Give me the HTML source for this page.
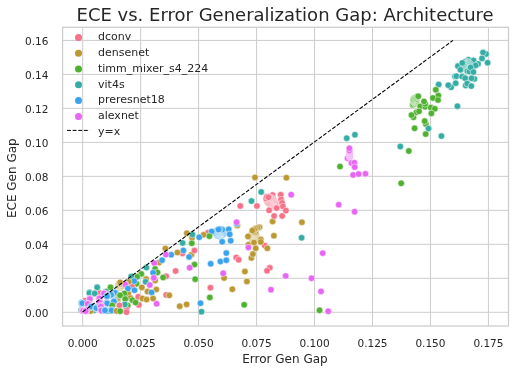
<!DOCTYPE html>
<html><head><meta charset="utf-8"><title>ECE vs. Error Generalization Gap</title>
<style>html,body{margin:0;padding:0;background:#fff}svg{display:block}text{font-family:"DejaVu Sans","Liberation Sans",sans-serif;fill:#262626}</style></head><body>
<svg width="515" height="373" viewBox="0 0 515 373">
<rect width="515" height="373" fill="#fff"/>
<path d="M82.70 27.30V326.00M140.66 27.30V326.00M198.62 27.30V326.00M256.58 27.30V326.00M314.54 27.30V326.00M372.50 27.30V326.00M430.46 27.30V326.00M488.42 27.30V326.00M62.60 312.30H508.50M62.60 278.31H508.50M62.60 244.32H508.50M62.60 210.34H508.50M62.60 176.35H508.50M62.60 142.36H508.50M62.60 108.37H508.50M62.60 74.38H508.50M62.60 40.40H508.50" stroke="#cccccc" stroke-width="1" fill="none"/>
<g stroke="#fff" stroke-width="0.5">
<circle cx="451.1" cy="87.3" r="3.25" fill="#36ada4"/>
<circle cx="465.7" cy="85.5" r="3.25" fill="#36ada4"/>
<circle cx="413.4" cy="117.3" r="3.25" fill="#50b131"/>
<circle cx="425.8" cy="124.0" r="3.25" fill="#50b131"/>
<circle cx="237.3" cy="225.4" r="3.25" fill="#bb9832"/>
<circle cx="236.7" cy="223.7" r="3.25" fill="#3ba3ec"/>
<circle cx="264.8" cy="245.6" r="3.25" fill="#f77189"/>
<circle cx="248.4" cy="244.8" r="3.25" fill="#bb9832"/>
<circle cx="207.9" cy="232.8" r="3.25" fill="#f77189"/>
<circle cx="186.8" cy="233.3" r="3.25" fill="#bb9832"/>
<circle cx="192.0" cy="237.7" r="3.25" fill="#bb9832"/>
<circle cx="182.5" cy="253.5" r="3.25" fill="#f77189"/>
<circle cx="191.4" cy="254.7" r="3.25" fill="#bb9832"/>
<circle cx="224.1" cy="278.0" r="3.25" fill="#bb9832"/>
<circle cx="165.4" cy="248.4" r="3.25" fill="#bb9832"/>
<circle cx="159.2" cy="262.6" r="3.25" fill="#bb9832"/>
<circle cx="166.2" cy="276.3" r="3.25" fill="#f77189"/>
<circle cx="155.1" cy="280.6" r="3.25" fill="#bb9832"/>
<circle cx="146.1" cy="279.1" r="3.25" fill="#bb9832"/>
<circle cx="136.6" cy="283.7" r="3.25" fill="#50b131"/>
<circle cx="132.0" cy="286.2" r="3.25" fill="#f77189"/>
<circle cx="166.2" cy="294.9" r="3.25" fill="#f77189"/>
<circle cx="128.3" cy="293.7" r="3.25" fill="#bb9832"/>
<circle cx="138.9" cy="304.9" r="3.25" fill="#f77189"/>
<circle cx="127.7" cy="305.5" r="3.25" fill="#50b131"/>
<circle cx="106.4" cy="291.6" r="3.25" fill="#36ada4"/>
<circle cx="100.3" cy="293.0" r="3.25" fill="#f77189"/>
<circle cx="85.1" cy="300.7" r="3.25" fill="#f77189"/>
<circle cx="112.5" cy="305.1" r="3.25" fill="#50b131"/>
<circle cx="108.2" cy="311.1" r="3.25" fill="#50b131"/>
<circle cx="81.3" cy="310.2" r="3.25" fill="#36ada4"/>
<circle cx="94.0" cy="310.3" r="3.25" fill="#36ada4"/>
<circle cx="90.6" cy="311.1" r="3.25" fill="#bb9832"/>
<circle cx="130.5" cy="298.1" r="3.25" fill="#bb9832"/>
<circle cx="126.5" cy="309.6" r="3.25" fill="#f77189"/>
<circle cx="126.5" cy="312.1" r="3.25" fill="#f77189"/>
<circle cx="468.5" cy="59.8" r="3.25" fill="#36ada4"/>
<circle cx="473.6" cy="60.4" r="3.25" fill="#36ada4"/>
<circle cx="457.9" cy="66.1" r="3.25" fill="#36ada4"/>
<circle cx="478.0" cy="63.9" r="3.25" fill="#36ada4"/>
<circle cx="465.6" cy="61.5" r="3.25" fill="#36ada4"/>
<circle cx="468.1" cy="61.8" r="3.25" fill="#36ada4"/>
<circle cx="466.9" cy="62.6" r="3.25" fill="#36ada4"/>
<circle cx="465.3" cy="63.3" r="3.25" fill="#36ada4"/>
<circle cx="464.0" cy="63.7" r="3.25" fill="#36ada4"/>
<circle cx="463.8" cy="64.8" r="3.25" fill="#36ada4"/>
<circle cx="465.5" cy="64.9" r="3.25" fill="#36ada4"/>
<circle cx="466.3" cy="64.0" r="3.25" fill="#36ada4"/>
<circle cx="468.2" cy="64.1" r="3.25" fill="#36ada4"/>
<circle cx="469.2" cy="63.2" r="3.25" fill="#36ada4"/>
<circle cx="470.1" cy="63.9" r="3.25" fill="#36ada4"/>
<circle cx="468.8" cy="64.6" r="3.25" fill="#36ada4"/>
<circle cx="466.7" cy="65.2" r="3.25" fill="#36ada4"/>
<circle cx="465.7" cy="66.2" r="3.25" fill="#36ada4"/>
<circle cx="464.2" cy="66.5" r="3.25" fill="#36ada4"/>
<circle cx="464.9" cy="67.5" r="3.25" fill="#36ada4"/>
<circle cx="466.1" cy="66.7" r="3.25" fill="#36ada4"/>
<circle cx="467.1" cy="66.5" r="3.25" fill="#36ada4"/>
<circle cx="469.1" cy="66.0" r="3.25" fill="#36ada4"/>
<circle cx="470.3" cy="65.7" r="3.25" fill="#36ada4"/>
<circle cx="470.7" cy="66.7" r="3.25" fill="#36ada4"/>
<circle cx="469.7" cy="67.4" r="3.25" fill="#36ada4"/>
<circle cx="467.9" cy="68.0" r="3.25" fill="#36ada4"/>
<circle cx="466.8" cy="68.6" r="3.25" fill="#36ada4"/>
<circle cx="465.4" cy="68.6" r="3.25" fill="#36ada4"/>
<circle cx="466.3" cy="69.5" r="3.25" fill="#36ada4"/>
<circle cx="467.3" cy="69.7" r="3.25" fill="#36ada4"/>
<circle cx="468.2" cy="69.1" r="3.25" fill="#36ada4"/>
<circle cx="469.4" cy="68.9" r="3.25" fill="#36ada4"/>
<circle cx="471.2" cy="68.1" r="3.25" fill="#36ada4"/>
<circle cx="471.1" cy="69.3" r="3.25" fill="#36ada4"/>
<circle cx="469.7" cy="70.1" r="3.25" fill="#36ada4"/>
<circle cx="468.4" cy="70.4" r="3.25" fill="#36ada4"/>
<circle cx="467.5" cy="71.2" r="3.25" fill="#36ada4"/>
<circle cx="469.4" cy="71.6" r="3.25" fill="#36ada4"/>
<circle cx="412.7" cy="105.0" r="3.25" fill="#50b131"/>
<circle cx="413.4" cy="104.3" r="3.25" fill="#50b131"/>
<circle cx="415.2" cy="103.8" r="3.25" fill="#50b131"/>
<circle cx="416.0" cy="102.5" r="3.25" fill="#50b131"/>
<circle cx="415.0" cy="102.9" r="3.25" fill="#50b131"/>
<circle cx="414.4" cy="102.9" r="3.25" fill="#50b131"/>
<circle cx="413.7" cy="102.0" r="3.25" fill="#50b131"/>
<circle cx="414.3" cy="102.0" r="3.25" fill="#50b131"/>
<circle cx="415.4" cy="101.9" r="3.25" fill="#50b131"/>
<circle cx="416.0" cy="102.0" r="3.25" fill="#50b131"/>
<circle cx="416.1" cy="101.0" r="3.25" fill="#50b131"/>
<circle cx="415.7" cy="101.0" r="3.25" fill="#50b131"/>
<circle cx="414.5" cy="101.4" r="3.25" fill="#50b131"/>
<circle cx="413.6" cy="101.1" r="3.25" fill="#50b131"/>
<circle cx="413.9" cy="100.6" r="3.25" fill="#50b131"/>
<circle cx="414.6" cy="100.6" r="3.25" fill="#50b131"/>
<circle cx="415.2" cy="100.4" r="3.25" fill="#50b131"/>
<circle cx="416.2" cy="100.6" r="3.25" fill="#50b131"/>
<circle cx="416.0" cy="99.4" r="3.25" fill="#50b131"/>
<circle cx="415.1" cy="99.8" r="3.25" fill="#50b131"/>
<circle cx="414.4" cy="99.4" r="3.25" fill="#50b131"/>
<circle cx="413.5" cy="99.6" r="3.25" fill="#50b131"/>
<circle cx="414.0" cy="98.9" r="3.25" fill="#50b131"/>
<circle cx="415.2" cy="98.7" r="3.25" fill="#50b131"/>
<circle cx="416.0" cy="99.1" r="3.25" fill="#50b131"/>
<circle cx="414.7" cy="98.1" r="3.25" fill="#50b131"/>
<circle cx="415.4" cy="97.9" r="3.25" fill="#50b131"/>
<circle cx="416.0" cy="97.5" r="3.25" fill="#50b131"/>
<circle cx="416.6" cy="97.2" r="3.25" fill="#50b131"/>
<circle cx="417.2" cy="96.7" r="3.25" fill="#50b131"/>
<circle cx="417.9" cy="96.4" r="3.25" fill="#50b131"/>
<circle cx="347.6" cy="158.2" r="3.25" fill="#e866f4"/>
<circle cx="349.7" cy="157.3" r="3.25" fill="#e866f4"/>
<circle cx="349.6" cy="156.8" r="3.25" fill="#e866f4"/>
<circle cx="349.6" cy="156.4" r="3.25" fill="#e866f4"/>
<circle cx="349.5" cy="156.0" r="3.25" fill="#e866f4"/>
<circle cx="349.6" cy="155.4" r="3.25" fill="#e866f4"/>
<circle cx="349.5" cy="154.9" r="3.25" fill="#e866f4"/>
<circle cx="349.5" cy="154.4" r="3.25" fill="#e866f4"/>
<circle cx="349.6" cy="154.1" r="3.25" fill="#e866f4"/>
<circle cx="349.5" cy="153.5" r="3.25" fill="#e866f4"/>
<circle cx="349.4" cy="152.9" r="3.25" fill="#e866f4"/>
<circle cx="349.4" cy="152.5" r="3.25" fill="#e866f4"/>
<circle cx="349.5" cy="152.0" r="3.25" fill="#e866f4"/>
<circle cx="349.3" cy="151.7" r="3.25" fill="#e866f4"/>
<circle cx="349.4" cy="151.0" r="3.25" fill="#e866f4"/>
<circle cx="349.4" cy="150.5" r="3.25" fill="#e866f4"/>
<circle cx="272.6" cy="195.0" r="3.25" fill="#f77189"/>
<circle cx="280.7" cy="194.7" r="3.25" fill="#f77189"/>
<circle cx="275.0" cy="205.5" r="3.25" fill="#f77189"/>
<circle cx="273.5" cy="206.1" r="3.25" fill="#f77189"/>
<circle cx="274.5" cy="205.4" r="3.25" fill="#f77189"/>
<circle cx="275.0" cy="204.5" r="3.25" fill="#f77189"/>
<circle cx="275.5" cy="204.0" r="3.25" fill="#f77189"/>
<circle cx="275.6" cy="203.2" r="3.25" fill="#f77189"/>
<circle cx="274.6" cy="203.6" r="3.25" fill="#f77189"/>
<circle cx="274.1" cy="204.3" r="3.25" fill="#f77189"/>
<circle cx="273.6" cy="204.8" r="3.25" fill="#f77189"/>
<circle cx="273.4" cy="205.2" r="3.25" fill="#f77189"/>
<circle cx="273.0" cy="206.0" r="3.25" fill="#f77189"/>
<circle cx="272.3" cy="205.4" r="3.25" fill="#f77189"/>
<circle cx="272.5" cy="204.8" r="3.25" fill="#f77189"/>
<circle cx="272.8" cy="204.7" r="3.25" fill="#f77189"/>
<circle cx="273.2" cy="203.9" r="3.25" fill="#f77189"/>
<circle cx="273.9" cy="203.7" r="3.25" fill="#f77189"/>
<circle cx="274.8" cy="202.9" r="3.25" fill="#f77189"/>
<circle cx="275.4" cy="202.4" r="3.25" fill="#f77189"/>
<circle cx="274.5" cy="201.5" r="3.25" fill="#f77189"/>
<circle cx="274.0" cy="202.4" r="3.25" fill="#f77189"/>
<circle cx="273.4" cy="202.7" r="3.25" fill="#f77189"/>
<circle cx="273.1" cy="203.1" r="3.25" fill="#f77189"/>
<circle cx="272.1" cy="204.0" r="3.25" fill="#f77189"/>
<circle cx="271.7" cy="204.7" r="3.25" fill="#f77189"/>
<circle cx="271.2" cy="204.9" r="3.25" fill="#f77189"/>
<circle cx="270.5" cy="204.5" r="3.25" fill="#f77189"/>
<circle cx="270.9" cy="204.4" r="3.25" fill="#f77189"/>
<circle cx="271.5" cy="203.4" r="3.25" fill="#f77189"/>
<circle cx="272.2" cy="203.3" r="3.25" fill="#f77189"/>
<circle cx="273.0" cy="202.5" r="3.25" fill="#f77189"/>
<circle cx="272.9" cy="202.1" r="3.25" fill="#f77189"/>
<circle cx="273.8" cy="201.2" r="3.25" fill="#f77189"/>
<circle cx="274.0" cy="201.1" r="3.25" fill="#f77189"/>
<circle cx="273.8" cy="200.2" r="3.25" fill="#f77189"/>
<circle cx="273.6" cy="200.9" r="3.25" fill="#f77189"/>
<circle cx="272.4" cy="201.6" r="3.25" fill="#f77189"/>
<circle cx="271.9" cy="201.8" r="3.25" fill="#f77189"/>
<circle cx="271.4" cy="202.3" r="3.25" fill="#f77189"/>
<circle cx="271.0" cy="203.3" r="3.25" fill="#f77189"/>
<circle cx="270.7" cy="203.6" r="3.25" fill="#f77189"/>
<circle cx="270.0" cy="204.0" r="3.25" fill="#f77189"/>
<circle cx="269.4" cy="203.6" r="3.25" fill="#f77189"/>
<circle cx="269.9" cy="202.8" r="3.25" fill="#f77189"/>
<circle cx="270.5" cy="202.5" r="3.25" fill="#f77189"/>
<circle cx="270.8" cy="201.8" r="3.25" fill="#f77189"/>
<circle cx="271.4" cy="201.2" r="3.25" fill="#f77189"/>
<circle cx="272.1" cy="200.8" r="3.25" fill="#f77189"/>
<circle cx="272.9" cy="200.5" r="3.25" fill="#f77189"/>
<circle cx="273.4" cy="199.8" r="3.25" fill="#f77189"/>
<circle cx="272.8" cy="198.8" r="3.25" fill="#f77189"/>
<circle cx="272.3" cy="199.6" r="3.25" fill="#f77189"/>
<circle cx="271.4" cy="200.3" r="3.25" fill="#f77189"/>
<circle cx="271.1" cy="200.8" r="3.25" fill="#f77189"/>
<circle cx="270.3" cy="201.3" r="3.25" fill="#f77189"/>
<circle cx="270.0" cy="201.8" r="3.25" fill="#f77189"/>
<circle cx="269.5" cy="202.5" r="3.25" fill="#f77189"/>
<circle cx="268.6" cy="203.2" r="3.25" fill="#f77189"/>
<circle cx="268.1" cy="202.4" r="3.25" fill="#f77189"/>
<circle cx="268.6" cy="202.1" r="3.25" fill="#f77189"/>
<circle cx="269.3" cy="201.4" r="3.25" fill="#f77189"/>
<circle cx="269.8" cy="200.8" r="3.25" fill="#f77189"/>
<circle cx="270.4" cy="200.2" r="3.25" fill="#f77189"/>
<circle cx="270.8" cy="199.5" r="3.25" fill="#f77189"/>
<circle cx="271.3" cy="199.1" r="3.25" fill="#f77189"/>
<circle cx="272.0" cy="198.9" r="3.25" fill="#f77189"/>
<circle cx="271.2" cy="198.0" r="3.25" fill="#f77189"/>
<circle cx="270.9" cy="199.0" r="3.25" fill="#f77189"/>
<circle cx="270.6" cy="199.0" r="3.25" fill="#f77189"/>
<circle cx="270.1" cy="199.6" r="3.25" fill="#f77189"/>
<circle cx="269.4" cy="200.0" r="3.25" fill="#f77189"/>
<circle cx="268.5" cy="200.7" r="3.25" fill="#f77189"/>
<circle cx="268.3" cy="201.1" r="3.25" fill="#f77189"/>
<circle cx="267.8" cy="202.1" r="3.25" fill="#f77189"/>
<circle cx="266.9" cy="201.1" r="3.25" fill="#f77189"/>
<circle cx="267.8" cy="200.3" r="3.25" fill="#f77189"/>
<circle cx="268.5" cy="200.0" r="3.25" fill="#f77189"/>
<circle cx="268.7" cy="199.5" r="3.25" fill="#f77189"/>
<circle cx="269.8" cy="198.7" r="3.25" fill="#f77189"/>
<circle cx="270.2" cy="198.3" r="3.25" fill="#f77189"/>
<circle cx="271.0" cy="197.6" r="3.25" fill="#f77189"/>
<circle cx="270.1" cy="197.6" r="3.25" fill="#f77189"/>
<circle cx="269.5" cy="197.8" r="3.25" fill="#f77189"/>
<circle cx="269.3" cy="198.2" r="3.25" fill="#f77189"/>
<circle cx="268.4" cy="198.9" r="3.25" fill="#f77189"/>
<circle cx="267.9" cy="199.0" r="3.25" fill="#f77189"/>
<circle cx="267.1" cy="199.8" r="3.25" fill="#f77189"/>
<circle cx="267.1" cy="200.4" r="3.25" fill="#f77189"/>
<circle cx="266.6" cy="199.3" r="3.25" fill="#f77189"/>
<circle cx="267.3" cy="199.2" r="3.25" fill="#f77189"/>
<circle cx="267.5" cy="198.4" r="3.25" fill="#f77189"/>
<circle cx="268.1" cy="198.3" r="3.25" fill="#f77189"/>
<circle cx="268.7" cy="197.2" r="3.25" fill="#f77189"/>
<circle cx="269.1" cy="196.9" r="3.25" fill="#f77189"/>
<circle cx="268.7" cy="196.7" r="3.25" fill="#f77189"/>
<circle cx="267.6" cy="197.5" r="3.25" fill="#f77189"/>
<circle cx="267.0" cy="197.7" r="3.25" fill="#f77189"/>
<circle cx="266.2" cy="198.6" r="3.25" fill="#f77189"/>
<circle cx="266.8" cy="196.8" r="3.25" fill="#f77189"/>
<circle cx="254.1" cy="240.2" r="3.25" fill="#bb9832"/>
<circle cx="255.3" cy="239.0" r="3.25" fill="#bb9832"/>
<circle cx="254.4" cy="239.4" r="3.25" fill="#bb9832"/>
<circle cx="253.5" cy="239.4" r="3.25" fill="#bb9832"/>
<circle cx="252.3" cy="239.5" r="3.25" fill="#bb9832"/>
<circle cx="251.8" cy="238.5" r="3.25" fill="#bb9832"/>
<circle cx="252.6" cy="238.3" r="3.25" fill="#bb9832"/>
<circle cx="253.6" cy="238.7" r="3.25" fill="#bb9832"/>
<circle cx="254.3" cy="238.8" r="3.25" fill="#bb9832"/>
<circle cx="255.2" cy="238.7" r="3.25" fill="#bb9832"/>
<circle cx="255.8" cy="238.7" r="3.25" fill="#bb9832"/>
<circle cx="255.8" cy="237.8" r="3.25" fill="#bb9832"/>
<circle cx="255.3" cy="237.9" r="3.25" fill="#bb9832"/>
<circle cx="254.6" cy="237.8" r="3.25" fill="#bb9832"/>
<circle cx="253.2" cy="238.0" r="3.25" fill="#bb9832"/>
<circle cx="252.8" cy="237.8" r="3.25" fill="#bb9832"/>
<circle cx="252.1" cy="237.5" r="3.25" fill="#bb9832"/>
<circle cx="251.5" cy="236.9" r="3.25" fill="#bb9832"/>
<circle cx="252.5" cy="237.2" r="3.25" fill="#bb9832"/>
<circle cx="253.3" cy="237.1" r="3.25" fill="#bb9832"/>
<circle cx="254.0" cy="237.0" r="3.25" fill="#bb9832"/>
<circle cx="254.6" cy="236.8" r="3.25" fill="#bb9832"/>
<circle cx="255.2" cy="236.7" r="3.25" fill="#bb9832"/>
<circle cx="256.0" cy="236.9" r="3.25" fill="#bb9832"/>
<circle cx="256.0" cy="236.0" r="3.25" fill="#bb9832"/>
<circle cx="255.3" cy="236.2" r="3.25" fill="#bb9832"/>
<circle cx="254.7" cy="236.2" r="3.25" fill="#bb9832"/>
<circle cx="253.6" cy="236.1" r="3.25" fill="#bb9832"/>
<circle cx="253.0" cy="236.1" r="3.25" fill="#bb9832"/>
<circle cx="252.2" cy="236.5" r="3.25" fill="#bb9832"/>
<circle cx="251.8" cy="236.2" r="3.25" fill="#bb9832"/>
<circle cx="251.4" cy="235.7" r="3.25" fill="#bb9832"/>
<circle cx="252.1" cy="235.4" r="3.25" fill="#bb9832"/>
<circle cx="253.0" cy="235.4" r="3.25" fill="#bb9832"/>
<circle cx="253.8" cy="235.3" r="3.25" fill="#bb9832"/>
<circle cx="254.9" cy="235.5" r="3.25" fill="#bb9832"/>
<circle cx="255.2" cy="235.6" r="3.25" fill="#bb9832"/>
<circle cx="256.1" cy="235.2" r="3.25" fill="#bb9832"/>
<circle cx="256.0" cy="234.8" r="3.25" fill="#bb9832"/>
<circle cx="255.2" cy="234.4" r="3.25" fill="#bb9832"/>
<circle cx="254.6" cy="234.5" r="3.25" fill="#bb9832"/>
<circle cx="254.0" cy="234.7" r="3.25" fill="#bb9832"/>
<circle cx="253.0" cy="234.8" r="3.25" fill="#bb9832"/>
<circle cx="252.5" cy="234.9" r="3.25" fill="#bb9832"/>
<circle cx="251.5" cy="234.6" r="3.25" fill="#bb9832"/>
<circle cx="251.8" cy="234.0" r="3.25" fill="#bb9832"/>
<circle cx="252.8" cy="233.8" r="3.25" fill="#bb9832"/>
<circle cx="253.7" cy="233.6" r="3.25" fill="#bb9832"/>
<circle cx="254.1" cy="233.8" r="3.25" fill="#bb9832"/>
<circle cx="255.3" cy="233.9" r="3.25" fill="#bb9832"/>
<circle cx="255.9" cy="233.6" r="3.25" fill="#bb9832"/>
<circle cx="255.7" cy="232.8" r="3.25" fill="#bb9832"/>
<circle cx="255.0" cy="232.9" r="3.25" fill="#bb9832"/>
<circle cx="254.4" cy="232.9" r="3.25" fill="#bb9832"/>
<circle cx="253.4" cy="232.9" r="3.25" fill="#bb9832"/>
<circle cx="252.5" cy="232.9" r="3.25" fill="#bb9832"/>
<circle cx="251.8" cy="232.9" r="3.25" fill="#bb9832"/>
<circle cx="252.5" cy="232.1" r="3.25" fill="#bb9832"/>
<circle cx="253.3" cy="232.1" r="3.25" fill="#bb9832"/>
<circle cx="254.4" cy="232.5" r="3.25" fill="#bb9832"/>
<circle cx="255.3" cy="232.2" r="3.25" fill="#bb9832"/>
<circle cx="253.6" cy="231.7" r="3.25" fill="#bb9832"/>
<circle cx="259.4" cy="227.3" r="3.25" fill="#bb9832"/>
<circle cx="257.5" cy="227.9" r="3.25" fill="#bb9832"/>
<circle cx="255.7" cy="228.6" r="3.25" fill="#bb9832"/>
<circle cx="254.2" cy="229.6" r="3.25" fill="#bb9832"/>
<circle cx="219.8" cy="236.3" r="3.25" fill="#3ba3ec"/>
<circle cx="221.9" cy="235.2" r="3.25" fill="#3ba3ec"/>
<circle cx="221.2" cy="235.1" r="3.25" fill="#3ba3ec"/>
<circle cx="220.4" cy="235.1" r="3.25" fill="#3ba3ec"/>
<circle cx="219.8" cy="235.1" r="3.25" fill="#3ba3ec"/>
<circle cx="219.3" cy="235.6" r="3.25" fill="#3ba3ec"/>
<circle cx="218.3" cy="235.2" r="3.25" fill="#3ba3ec"/>
<circle cx="217.4" cy="235.6" r="3.25" fill="#3ba3ec"/>
<circle cx="216.6" cy="234.3" r="3.25" fill="#3ba3ec"/>
<circle cx="217.7" cy="234.5" r="3.25" fill="#3ba3ec"/>
<circle cx="218.6" cy="234.4" r="3.25" fill="#3ba3ec"/>
<circle cx="219.7" cy="234.4" r="3.25" fill="#3ba3ec"/>
<circle cx="220.1" cy="234.7" r="3.25" fill="#3ba3ec"/>
<circle cx="221.1" cy="234.5" r="3.25" fill="#3ba3ec"/>
<circle cx="222.2" cy="234.3" r="3.25" fill="#3ba3ec"/>
<circle cx="222.7" cy="234.3" r="3.25" fill="#3ba3ec"/>
<circle cx="223.3" cy="233.9" r="3.25" fill="#3ba3ec"/>
<circle cx="222.5" cy="233.7" r="3.25" fill="#3ba3ec"/>
<circle cx="221.6" cy="233.5" r="3.25" fill="#3ba3ec"/>
<circle cx="220.9" cy="233.8" r="3.25" fill="#3ba3ec"/>
<circle cx="219.9" cy="234.0" r="3.25" fill="#3ba3ec"/>
<circle cx="219.2" cy="234.0" r="3.25" fill="#3ba3ec"/>
<circle cx="218.0" cy="234.0" r="3.25" fill="#3ba3ec"/>
<circle cx="217.3" cy="233.6" r="3.25" fill="#3ba3ec"/>
<circle cx="216.3" cy="233.6" r="3.25" fill="#3ba3ec"/>
<circle cx="216.1" cy="233.3" r="3.25" fill="#3ba3ec"/>
<circle cx="216.8" cy="233.2" r="3.25" fill="#3ba3ec"/>
<circle cx="217.7" cy="232.7" r="3.25" fill="#3ba3ec"/>
<circle cx="218.5" cy="232.9" r="3.25" fill="#3ba3ec"/>
<circle cx="219.7" cy="233.0" r="3.25" fill="#3ba3ec"/>
<circle cx="220.1" cy="232.9" r="3.25" fill="#3ba3ec"/>
<circle cx="221.2" cy="232.9" r="3.25" fill="#3ba3ec"/>
<circle cx="222.0" cy="233.1" r="3.25" fill="#3ba3ec"/>
<circle cx="222.8" cy="232.8" r="3.25" fill="#3ba3ec"/>
<circle cx="223.1" cy="233.1" r="3.25" fill="#3ba3ec"/>
<circle cx="223.3" cy="232.4" r="3.25" fill="#3ba3ec"/>
<circle cx="222.4" cy="232.1" r="3.25" fill="#3ba3ec"/>
<circle cx="221.8" cy="232.1" r="3.25" fill="#3ba3ec"/>
<circle cx="220.7" cy="232.2" r="3.25" fill="#3ba3ec"/>
<circle cx="220.2" cy="231.9" r="3.25" fill="#3ba3ec"/>
<circle cx="219.2" cy="232.4" r="3.25" fill="#3ba3ec"/>
<circle cx="218.8" cy="232.3" r="3.25" fill="#3ba3ec"/>
<circle cx="218.0" cy="232.2" r="3.25" fill="#3ba3ec"/>
<circle cx="217.3" cy="232.0" r="3.25" fill="#3ba3ec"/>
<circle cx="216.0" cy="232.2" r="3.25" fill="#3ba3ec"/>
<circle cx="216.2" cy="231.5" r="3.25" fill="#3ba3ec"/>
<circle cx="217.1" cy="231.7" r="3.25" fill="#3ba3ec"/>
<circle cx="218.1" cy="231.3" r="3.25" fill="#3ba3ec"/>
<circle cx="219.1" cy="231.7" r="3.25" fill="#3ba3ec"/>
<circle cx="219.5" cy="231.4" r="3.25" fill="#3ba3ec"/>
<circle cx="220.9" cy="231.7" r="3.25" fill="#3ba3ec"/>
<circle cx="221.7" cy="231.3" r="3.25" fill="#3ba3ec"/>
<circle cx="222.3" cy="231.2" r="3.25" fill="#3ba3ec"/>
<circle cx="223.2" cy="231.4" r="3.25" fill="#3ba3ec"/>
<circle cx="222.9" cy="230.5" r="3.25" fill="#3ba3ec"/>
<circle cx="222.0" cy="230.8" r="3.25" fill="#3ba3ec"/>
<circle cx="220.8" cy="230.5" r="3.25" fill="#3ba3ec"/>
<circle cx="220.3" cy="230.4" r="3.25" fill="#3ba3ec"/>
<circle cx="219.5" cy="230.5" r="3.25" fill="#3ba3ec"/>
<circle cx="218.3" cy="230.5" r="3.25" fill="#3ba3ec"/>
<circle cx="217.7" cy="230.4" r="3.25" fill="#3ba3ec"/>
<circle cx="217.0" cy="230.7" r="3.25" fill="#3ba3ec"/>
<circle cx="217.5" cy="230.0" r="3.25" fill="#3ba3ec"/>
<circle cx="218.3" cy="229.8" r="3.25" fill="#3ba3ec"/>
<circle cx="219.2" cy="230.2" r="3.25" fill="#3ba3ec"/>
<circle cx="219.9" cy="229.7" r="3.25" fill="#3ba3ec"/>
<circle cx="220.3" cy="229.7" r="3.25" fill="#3ba3ec"/>
<circle cx="221.5" cy="229.7" r="3.25" fill="#3ba3ec"/>
<circle cx="222.2" cy="229.6" r="3.25" fill="#3ba3ec"/>
<circle cx="219.8" cy="229.1" r="3.25" fill="#3ba3ec"/>
<circle cx="119.8" cy="287.8" r="3.25" fill="#bb9832"/>
<circle cx="118.8" cy="287.2" r="3.25" fill="#bb9832"/>
<circle cx="119.7" cy="287.2" r="3.25" fill="#bb9832"/>
<circle cx="120.2" cy="287.2" r="3.25" fill="#bb9832"/>
<circle cx="120.6" cy="286.9" r="3.25" fill="#bb9832"/>
<circle cx="121.4" cy="286.2" r="3.25" fill="#bb9832"/>
<circle cx="120.4" cy="286.5" r="3.25" fill="#bb9832"/>
<circle cx="119.3" cy="286.6" r="3.25" fill="#bb9832"/>
<circle cx="118.5" cy="286.0" r="3.25" fill="#bb9832"/>
<circle cx="118.6" cy="285.6" r="3.25" fill="#bb9832"/>
<circle cx="119.1" cy="285.7" r="3.25" fill="#bb9832"/>
<circle cx="120.5" cy="285.3" r="3.25" fill="#bb9832"/>
<circle cx="121.5" cy="285.8" r="3.25" fill="#bb9832"/>
<circle cx="121.1" cy="284.8" r="3.25" fill="#bb9832"/>
<circle cx="120.1" cy="284.7" r="3.25" fill="#bb9832"/>
<circle cx="119.6" cy="284.7" r="3.25" fill="#bb9832"/>
<circle cx="118.5" cy="284.9" r="3.25" fill="#bb9832"/>
<circle cx="119.0" cy="283.9" r="3.25" fill="#bb9832"/>
<circle cx="119.2" cy="284.0" r="3.25" fill="#bb9832"/>
<circle cx="120.1" cy="284.0" r="3.25" fill="#bb9832"/>
<circle cx="120.8" cy="284.1" r="3.25" fill="#bb9832"/>
<circle cx="119.9" cy="283.3" r="3.25" fill="#bb9832"/>
<circle cx="118.1" cy="299.2" r="3.25" fill="#bb9832"/>
<circle cx="117.3" cy="300.0" r="3.25" fill="#bb9832"/>
<circle cx="116.9" cy="298.6" r="3.25" fill="#bb9832"/>
<circle cx="117.5" cy="299.4" r="3.25" fill="#bb9832"/>
<circle cx="116.7" cy="298.4" r="3.25" fill="#bb9832"/>
<circle cx="486.1" cy="54.0" r="3.25" fill="#36ada4"/>
<circle cx="483.0" cy="52.5" r="3.25" fill="#36ada4"/>
<circle cx="482.0" cy="58.4" r="3.25" fill="#36ada4"/>
<circle cx="487.6" cy="62.7" r="3.25" fill="#36ada4"/>
<circle cx="462.3" cy="62.9" r="3.25" fill="#36ada4"/>
<circle cx="475.6" cy="65.4" r="3.25" fill="#36ada4"/>
<circle cx="470.6" cy="67.4" r="3.25" fill="#36ada4"/>
<circle cx="460.4" cy="69.8" r="3.25" fill="#36ada4"/>
<circle cx="473.4" cy="72.1" r="3.25" fill="#36ada4"/>
<circle cx="455.0" cy="76.5" r="3.25" fill="#36ada4"/>
<circle cx="456.4" cy="76.2" r="3.25" fill="#36ada4"/>
<circle cx="462.2" cy="76.6" r="3.25" fill="#36ada4"/>
<circle cx="465.2" cy="78.2" r="3.25" fill="#36ada4"/>
<circle cx="474.4" cy="78.9" r="3.25" fill="#36ada4"/>
<circle cx="471.5" cy="78.3" r="3.25" fill="#36ada4"/>
<circle cx="455.7" cy="83.2" r="3.25" fill="#36ada4"/>
<circle cx="448.3" cy="85.2" r="3.25" fill="#36ada4"/>
<circle cx="438.7" cy="84.5" r="3.25" fill="#36ada4"/>
<circle cx="467.2" cy="83.6" r="3.25" fill="#36ada4"/>
<circle cx="471.3" cy="86.1" r="3.25" fill="#36ada4"/>
<circle cx="457.4" cy="106.2" r="3.25" fill="#36ada4"/>
<circle cx="428.5" cy="128.5" r="3.25" fill="#36ada4"/>
<circle cx="441.4" cy="136.1" r="3.25" fill="#36ada4"/>
<circle cx="400.3" cy="146.5" r="3.25" fill="#36ada4"/>
<circle cx="346.7" cy="138.2" r="3.25" fill="#36ada4"/>
<circle cx="354.9" cy="134.8" r="3.25" fill="#36ada4"/>
<circle cx="435.8" cy="89.8" r="3.25" fill="#50b131"/>
<circle cx="438.3" cy="95.6" r="3.25" fill="#50b131"/>
<circle cx="432.9" cy="98.0" r="3.25" fill="#50b131"/>
<circle cx="438.0" cy="100.1" r="3.25" fill="#50b131"/>
<circle cx="418.3" cy="96.3" r="3.25" fill="#50b131"/>
<circle cx="420.2" cy="106.4" r="3.25" fill="#50b131"/>
<circle cx="425.2" cy="106.7" r="3.25" fill="#50b131"/>
<circle cx="425.2" cy="103.9" r="3.25" fill="#50b131"/>
<circle cx="424.0" cy="101.4" r="3.25" fill="#50b131"/>
<circle cx="430.8" cy="107.6" r="3.25" fill="#50b131"/>
<circle cx="434.8" cy="108.8" r="3.25" fill="#50b131"/>
<circle cx="431.4" cy="113.4" r="3.25" fill="#50b131"/>
<circle cx="416.5" cy="112.3" r="3.25" fill="#50b131"/>
<circle cx="419.0" cy="111.3" r="3.25" fill="#50b131"/>
<circle cx="411.5" cy="115.1" r="3.25" fill="#50b131"/>
<circle cx="424.7" cy="121.1" r="3.25" fill="#50b131"/>
<circle cx="414.6" cy="128.3" r="3.25" fill="#50b131"/>
<circle cx="425.7" cy="134.1" r="3.25" fill="#50b131"/>
<circle cx="408.8" cy="151.0" r="3.25" fill="#50b131"/>
<circle cx="401.2" cy="183.3" r="3.25" fill="#50b131"/>
<circle cx="340.0" cy="166.6" r="3.25" fill="#50b131"/>
<circle cx="349.4" cy="148.3" r="3.25" fill="#e866f4"/>
<circle cx="351.5" cy="162.9" r="3.25" fill="#e866f4"/>
<circle cx="354.3" cy="162.7" r="3.25" fill="#e866f4"/>
<circle cx="354.7" cy="167.1" r="3.25" fill="#e866f4"/>
<circle cx="353.1" cy="174.9" r="3.25" fill="#e866f4"/>
<circle cx="358.6" cy="174.1" r="3.25" fill="#e866f4"/>
<circle cx="365.5" cy="173.8" r="3.25" fill="#e866f4"/>
<circle cx="338.7" cy="204.7" r="3.25" fill="#e866f4"/>
<circle cx="354.6" cy="211.7" r="3.25" fill="#e866f4"/>
<circle cx="291.2" cy="194.7" r="3.25" fill="#e866f4"/>
<circle cx="322.7" cy="253.2" r="3.25" fill="#e866f4"/>
<circle cx="285.7" cy="276.0" r="3.25" fill="#e866f4"/>
<circle cx="311.5" cy="278.3" r="3.25" fill="#e866f4"/>
<circle cx="271.0" cy="289.7" r="3.25" fill="#e866f4"/>
<circle cx="321.0" cy="291.4" r="3.25" fill="#e866f4"/>
<circle cx="328.2" cy="311.3" r="3.25" fill="#e866f4"/>
<circle cx="319.5" cy="310.3" r="3.25" fill="#50b131"/>
<circle cx="244.2" cy="304.8" r="3.25" fill="#50b131"/>
<circle cx="255.0" cy="177.4" r="3.25" fill="#bb9832"/>
<circle cx="286.4" cy="177.7" r="3.25" fill="#bb9832"/>
<circle cx="301.9" cy="222.3" r="3.25" fill="#bb9832"/>
<circle cx="272.6" cy="221.5" r="3.25" fill="#bb9832"/>
<circle cx="273.9" cy="235.8" r="3.25" fill="#bb9832"/>
<circle cx="261.2" cy="192.0" r="3.25" fill="#36ada4"/>
<circle cx="251.5" cy="201.1" r="3.25" fill="#36ada4"/>
<circle cx="301.6" cy="237.8" r="3.25" fill="#36ada4"/>
<circle cx="268.4" cy="197.3" r="3.25" fill="#f77189"/>
<circle cx="281.1" cy="199.6" r="3.25" fill="#f77189"/>
<circle cx="282.1" cy="202.9" r="3.25" fill="#f77189"/>
<circle cx="282.9" cy="206.4" r="3.25" fill="#f77189"/>
<circle cx="285.9" cy="210.6" r="3.25" fill="#f77189"/>
<circle cx="276.6" cy="208.1" r="3.25" fill="#f77189"/>
<circle cx="269.1" cy="210.3" r="3.25" fill="#f77189"/>
<circle cx="256.9" cy="206.0" r="3.25" fill="#f77189"/>
<circle cx="274.1" cy="216.0" r="3.25" fill="#f77189"/>
<circle cx="282.2" cy="215.9" r="3.25" fill="#f77189"/>
<circle cx="240.3" cy="206.0" r="3.25" fill="#f77189"/>
<circle cx="269.8" cy="267.8" r="3.25" fill="#f77189"/>
<circle cx="267.0" cy="270.8" r="3.25" fill="#f77189"/>
<circle cx="236.3" cy="257.4" r="3.25" fill="#f77189"/>
<circle cx="238.7" cy="259.8" r="3.25" fill="#f77189"/>
<circle cx="252.4" cy="230.6" r="3.25" fill="#bb9832"/>
<circle cx="248.0" cy="236.4" r="3.25" fill="#bb9832"/>
<circle cx="260.8" cy="239.5" r="3.25" fill="#bb9832"/>
<circle cx="260.8" cy="242.0" r="3.25" fill="#bb9832"/>
<circle cx="254.0" cy="242.6" r="3.25" fill="#bb9832"/>
<circle cx="255.7" cy="248.3" r="3.25" fill="#bb9832"/>
<circle cx="267.3" cy="248.3" r="3.25" fill="#bb9832"/>
<circle cx="251.4" cy="257.9" r="3.25" fill="#bb9832"/>
<circle cx="252.9" cy="254.1" r="3.25" fill="#bb9832"/>
<circle cx="244.9" cy="271.5" r="3.25" fill="#bb9832"/>
<circle cx="246.9" cy="281.5" r="3.25" fill="#bb9832"/>
<circle cx="232.3" cy="289.2" r="3.25" fill="#bb9832"/>
<circle cx="248.4" cy="247.5" r="3.25" fill="#e866f4"/>
<circle cx="236.6" cy="222.2" r="3.25" fill="#e866f4"/>
<circle cx="211.7" cy="231.5" r="3.25" fill="#3ba3ec"/>
<circle cx="218.5" cy="229.6" r="3.25" fill="#3ba3ec"/>
<circle cx="228.7" cy="229.3" r="3.25" fill="#3ba3ec"/>
<circle cx="229.7" cy="234.3" r="3.25" fill="#3ba3ec"/>
<circle cx="222.2" cy="241.8" r="3.25" fill="#3ba3ec"/>
<circle cx="230.7" cy="240.8" r="3.25" fill="#3ba3ec"/>
<circle cx="226.3" cy="253.1" r="3.25" fill="#3ba3ec"/>
<circle cx="203.6" cy="234.8" r="3.25" fill="#bb9832"/>
<circle cx="209.4" cy="236.2" r="3.25" fill="#50b131"/>
<circle cx="199.2" cy="237.3" r="3.25" fill="#3ba3ec"/>
<circle cx="192.4" cy="234.6" r="3.25" fill="#36ada4"/>
<circle cx="191.8" cy="243.3" r="3.25" fill="#50b131"/>
<circle cx="182.6" cy="243.0" r="3.25" fill="#36ada4"/>
<circle cx="183.4" cy="250.5" r="3.25" fill="#3ba3ec"/>
<circle cx="194.4" cy="250.5" r="3.25" fill="#f77189"/>
<circle cx="189.1" cy="256.9" r="3.25" fill="#3ba3ec"/>
<circle cx="194.5" cy="264.6" r="3.25" fill="#50b131"/>
<circle cx="189.7" cy="267.7" r="3.25" fill="#e866f4"/>
<circle cx="195.2" cy="279.2" r="3.25" fill="#50b131"/>
<circle cx="210.7" cy="263.8" r="3.25" fill="#3ba3ec"/>
<circle cx="220.4" cy="261.5" r="3.25" fill="#3ba3ec"/>
<circle cx="226.3" cy="260.3" r="3.25" fill="#3ba3ec"/>
<circle cx="223.2" cy="273.3" r="3.25" fill="#e866f4"/>
<circle cx="210.4" cy="287.7" r="3.25" fill="#f77189"/>
<circle cx="209.8" cy="297.4" r="3.25" fill="#50b131"/>
<circle cx="200.5" cy="303.2" r="3.25" fill="#3ba3ec"/>
<circle cx="201.5" cy="311.7" r="3.25" fill="#36ada4"/>
<circle cx="186.6" cy="304.4" r="3.25" fill="#bb9832"/>
<circle cx="179.7" cy="306.3" r="3.25" fill="#bb9832"/>
<circle cx="177.4" cy="252.5" r="3.25" fill="#bb9832"/>
<circle cx="171.2" cy="254.8" r="3.25" fill="#3ba3ec"/>
<circle cx="165.9" cy="254.6" r="3.25" fill="#e866f4"/>
<circle cx="162.1" cy="260.2" r="3.25" fill="#3ba3ec"/>
<circle cx="154.4" cy="263.2" r="3.25" fill="#e866f4"/>
<circle cx="146.4" cy="267.6" r="3.25" fill="#36ada4"/>
<circle cx="155.1" cy="268.9" r="3.25" fill="#50b131"/>
<circle cx="157.5" cy="272.4" r="3.25" fill="#50b131"/>
<circle cx="153.1" cy="272.8" r="3.25" fill="#3ba3ec"/>
<circle cx="175.6" cy="271.0" r="3.25" fill="#f77189"/>
<circle cx="141.3" cy="273.9" r="3.25" fill="#50b131"/>
<circle cx="137.2" cy="276.8" r="3.25" fill="#50b131"/>
<circle cx="131.2" cy="276.6" r="3.25" fill="#36ada4"/>
<circle cx="163.1" cy="277.5" r="3.25" fill="#50b131"/>
<circle cx="153.8" cy="277.9" r="3.25" fill="#e866f4"/>
<circle cx="145.6" cy="281.8" r="3.25" fill="#36ada4"/>
<circle cx="134.2" cy="281.1" r="3.25" fill="#3ba3ec"/>
<circle cx="128.8" cy="281.8" r="3.25" fill="#bb9832"/>
<circle cx="124.8" cy="283.9" r="3.25" fill="#e866f4"/>
<circle cx="125.3" cy="284.5" r="3.25" fill="#e866f4"/>
<circle cx="149.8" cy="285.0" r="3.25" fill="#e866f4"/>
<circle cx="141.8" cy="287.4" r="3.25" fill="#bb9832"/>
<circle cx="127.9" cy="288.6" r="3.25" fill="#3ba3ec"/>
<circle cx="134.5" cy="290.2" r="3.25" fill="#3ba3ec"/>
<circle cx="156.3" cy="289.6" r="3.25" fill="#bb9832"/>
<circle cx="147.5" cy="291.6" r="3.25" fill="#bb9832"/>
<circle cx="151.6" cy="292.4" r="3.25" fill="#3ba3ec"/>
<circle cx="169.3" cy="295.3" r="3.25" fill="#bb9832"/>
<circle cx="138.3" cy="296.8" r="3.25" fill="#f77189"/>
<circle cx="142.4" cy="298.4" r="3.25" fill="#bb9832"/>
<circle cx="146.6" cy="299.6" r="3.25" fill="#bb9832"/>
<circle cx="153.1" cy="298.6" r="3.25" fill="#bb9832"/>
<circle cx="124.4" cy="293.4" r="3.25" fill="#50b131"/>
<circle cx="125.2" cy="299.0" r="3.25" fill="#50b131"/>
<circle cx="132.5" cy="300.2" r="3.25" fill="#50b131"/>
<circle cx="135.6" cy="302.6" r="3.25" fill="#50b131"/>
<circle cx="156.6" cy="303.8" r="3.25" fill="#e866f4"/>
<circle cx="124.8" cy="304.6" r="3.25" fill="#36ada4"/>
<circle cx="124.8" cy="304.5" r="3.25" fill="#36ada4"/>
<circle cx="97.1" cy="287.1" r="3.25" fill="#36ada4"/>
<circle cx="97.2" cy="287.4" r="3.25" fill="#36ada4"/>
<circle cx="89.5" cy="292.3" r="3.25" fill="#36ada4"/>
<circle cx="89.4" cy="293.0" r="3.25" fill="#36ada4"/>
<circle cx="94.4" cy="293.4" r="3.25" fill="#36ada4"/>
<circle cx="94.7" cy="293.4" r="3.25" fill="#36ada4"/>
<circle cx="110.5" cy="287.3" r="3.25" fill="#50b131"/>
<circle cx="120.1" cy="282.4" r="3.25" fill="#bb9832"/>
<circle cx="117.2" cy="299.0" r="3.25" fill="#bb9832"/>
<circle cx="104.8" cy="293.7" r="3.25" fill="#e866f4"/>
<circle cx="104.7" cy="293.4" r="3.25" fill="#e866f4"/>
<circle cx="103.6" cy="293.0" r="3.25" fill="#e866f4"/>
<circle cx="104.0" cy="293.4" r="3.25" fill="#e866f4"/>
<circle cx="115.8" cy="293.3" r="3.25" fill="#3ba3ec"/>
<circle cx="114.8" cy="292.2" r="3.25" fill="#3ba3ec"/>
<circle cx="115.1" cy="293.2" r="3.25" fill="#3ba3ec"/>
<circle cx="115.1" cy="292.9" r="3.25" fill="#3ba3ec"/>
<circle cx="109.6" cy="294.6" r="3.25" fill="#3ba3ec"/>
<circle cx="110.0" cy="295.7" r="3.25" fill="#3ba3ec"/>
<circle cx="109.3" cy="294.3" r="3.25" fill="#3ba3ec"/>
<circle cx="109.7" cy="295.0" r="3.25" fill="#3ba3ec"/>
<circle cx="110.8" cy="294.7" r="3.25" fill="#3ba3ec"/>
<circle cx="111.4" cy="294.3" r="3.25" fill="#3ba3ec"/>
<circle cx="111.6" cy="295.2" r="3.25" fill="#3ba3ec"/>
<circle cx="111.1" cy="294.8" r="3.25" fill="#3ba3ec"/>
<circle cx="106.9" cy="295.7" r="3.25" fill="#3ba3ec"/>
<circle cx="107.7" cy="295.9" r="3.25" fill="#3ba3ec"/>
<circle cx="107.4" cy="295.8" r="3.25" fill="#3ba3ec"/>
<circle cx="106.9" cy="296.2" r="3.25" fill="#3ba3ec"/>
<circle cx="119.4" cy="295.5" r="3.25" fill="#50b131"/>
<circle cx="120.1" cy="295.3" r="3.25" fill="#50b131"/>
<circle cx="89.4" cy="299.6" r="3.25" fill="#e866f4"/>
<circle cx="89.5" cy="299.9" r="3.25" fill="#e866f4"/>
<circle cx="89.8" cy="298.6" r="3.25" fill="#e866f4"/>
<circle cx="89.8" cy="299.1" r="3.25" fill="#e866f4"/>
<circle cx="99.1" cy="298.3" r="3.25" fill="#e866f4"/>
<circle cx="99.8" cy="299.1" r="3.25" fill="#e866f4"/>
<circle cx="98.9" cy="298.2" r="3.25" fill="#e866f4"/>
<circle cx="99.5" cy="298.4" r="3.25" fill="#e866f4"/>
<circle cx="81.9" cy="304.0" r="3.25" fill="#3ba3ec"/>
<circle cx="81.8" cy="302.5" r="3.25" fill="#3ba3ec"/>
<circle cx="81.7" cy="303.1" r="3.25" fill="#3ba3ec"/>
<circle cx="82.4" cy="303.2" r="3.25" fill="#3ba3ec"/>
<circle cx="88.1" cy="304.5" r="3.25" fill="#e866f4"/>
<circle cx="87.9" cy="304.6" r="3.25" fill="#e866f4"/>
<circle cx="88.2" cy="303.6" r="3.25" fill="#e866f4"/>
<circle cx="87.5" cy="303.9" r="3.25" fill="#e866f4"/>
<circle cx="98.9" cy="303.1" r="3.25" fill="#e866f4"/>
<circle cx="99.8" cy="301.7" r="3.25" fill="#e866f4"/>
<circle cx="99.7" cy="302.3" r="3.25" fill="#e866f4"/>
<circle cx="99.5" cy="302.4" r="3.25" fill="#e866f4"/>
<circle cx="107.0" cy="303.1" r="3.25" fill="#3ba3ec"/>
<circle cx="106.7" cy="302.6" r="3.25" fill="#3ba3ec"/>
<circle cx="106.8" cy="303.1" r="3.25" fill="#3ba3ec"/>
<circle cx="107.2" cy="303.4" r="3.25" fill="#3ba3ec"/>
<circle cx="114.6" cy="300.8" r="3.25" fill="#3ba3ec"/>
<circle cx="114.6" cy="301.0" r="3.25" fill="#3ba3ec"/>
<circle cx="113.7" cy="302.0" r="3.25" fill="#3ba3ec"/>
<circle cx="113.9" cy="301.4" r="3.25" fill="#3ba3ec"/>
<circle cx="119.5" cy="305.4" r="3.25" fill="#f77189"/>
<circle cx="112.2" cy="305.4" r="3.25" fill="#50b131"/>
<circle cx="91.8" cy="306.5" r="3.25" fill="#3ba3ec"/>
<circle cx="90.6" cy="306.6" r="3.25" fill="#3ba3ec"/>
<circle cx="91.1" cy="307.3" r="3.25" fill="#3ba3ec"/>
<circle cx="91.3" cy="306.6" r="3.25" fill="#3ba3ec"/>
<circle cx="95.9" cy="307.8" r="3.25" fill="#3ba3ec"/>
<circle cx="97.0" cy="307.3" r="3.25" fill="#3ba3ec"/>
<circle cx="96.3" cy="308.5" r="3.25" fill="#3ba3ec"/>
<circle cx="96.4" cy="308.1" r="3.25" fill="#3ba3ec"/>
<circle cx="101.3" cy="305.9" r="3.25" fill="#e866f4"/>
<circle cx="100.1" cy="306.0" r="3.25" fill="#e866f4"/>
<circle cx="101.5" cy="306.3" r="3.25" fill="#e866f4"/>
<circle cx="100.8" cy="306.6" r="3.25" fill="#e866f4"/>
<circle cx="101.7" cy="311.0" r="3.25" fill="#e866f4"/>
<circle cx="101.1" cy="310.0" r="3.25" fill="#e866f4"/>
<circle cx="102.1" cy="310.5" r="3.25" fill="#e866f4"/>
<circle cx="101.3" cy="310.4" r="3.25" fill="#e866f4"/>
<circle cx="82.7" cy="310.9" r="3.25" fill="#e866f4"/>
<circle cx="82.8" cy="310.2" r="3.25" fill="#e866f4"/>
<circle cx="82.3" cy="311.0" r="3.25" fill="#e866f4"/>
<circle cx="83.0" cy="310.6" r="3.25" fill="#e866f4"/>
<circle cx="86.3" cy="311.3" r="3.25" fill="#e866f4"/>
<circle cx="86.4" cy="310.3" r="3.25" fill="#e866f4"/>
<circle cx="85.2" cy="311.1" r="3.25" fill="#e866f4"/>
<circle cx="85.7" cy="311.1" r="3.25" fill="#e866f4"/>
<circle cx="105.8" cy="311.1" r="3.25" fill="#3ba3ec"/>
<circle cx="104.9" cy="310.0" r="3.25" fill="#3ba3ec"/>
<circle cx="104.9" cy="310.3" r="3.25" fill="#3ba3ec"/>
<circle cx="105.0" cy="310.4" r="3.25" fill="#3ba3ec"/>
<circle cx="112.1" cy="309.8" r="3.25" fill="#3ba3ec"/>
<circle cx="111.9" cy="310.7" r="3.25" fill="#3ba3ec"/>
<circle cx="112.0" cy="310.8" r="3.25" fill="#3ba3ec"/>
<circle cx="111.5" cy="310.4" r="3.25" fill="#3ba3ec"/>
<circle cx="116.6" cy="310.9" r="3.25" fill="#bb9832"/>
<circle cx="120.2" cy="311.2" r="3.25" fill="#50b131"/>
</g>
<path d="M82.50 311.95L452.98 40.39" stroke="#000" stroke-width="1.08" stroke-dasharray="3.93 1.702" fill="none"/>
<rect x="62.60" y="27.30" width="445.90" height="298.70" fill="none" stroke="#cccccc" stroke-width="1.25"/>
<text x="82.70" y="347.0" font-size="10.5" text-anchor="middle">0.000</text>
<text x="140.66" y="347.0" font-size="10.5" text-anchor="middle">0.025</text>
<text x="198.62" y="347.0" font-size="10.5" text-anchor="middle">0.050</text>
<text x="256.58" y="347.0" font-size="10.5" text-anchor="middle">0.075</text>
<text x="314.54" y="347.0" font-size="10.5" text-anchor="middle">0.100</text>
<text x="372.50" y="347.0" font-size="10.5" text-anchor="middle">0.125</text>
<text x="430.46" y="347.0" font-size="10.5" text-anchor="middle">0.150</text>
<text x="488.42" y="347.0" font-size="10.5" text-anchor="middle">0.175</text>
<text x="48.4" y="316.85" font-size="10.5" text-anchor="end">0.00</text>
<text x="48.4" y="282.86" font-size="10.5" text-anchor="end">0.02</text>
<text x="48.4" y="248.87" font-size="10.5" text-anchor="end">0.04</text>
<text x="48.4" y="214.89" font-size="10.5" text-anchor="end">0.06</text>
<text x="48.4" y="180.90" font-size="10.5" text-anchor="end">0.08</text>
<text x="48.4" y="146.91" font-size="10.5" text-anchor="end">0.10</text>
<text x="48.4" y="112.92" font-size="10.5" text-anchor="end">0.12</text>
<text x="48.4" y="78.93" font-size="10.5" text-anchor="end">0.14</text>
<text x="48.4" y="44.95" font-size="10.5" text-anchor="end">0.16</text>
<text x="284.95" y="362.7" font-size="12" text-anchor="middle">Error Gen Gap</text>
<text transform="translate(16.3 178.20) rotate(-90)" font-size="12" text-anchor="middle">ECE Gen Gap</text>
<text x="285.10" y="20.9" font-size="18" text-anchor="middle">ECE vs. Error Generalization Gap: Architecture</text>
<g>
<circle cx="78.5" cy="37.40" r="3.5" fill="#f77189"/>
<circle cx="78.5" cy="53.20" r="3.5" fill="#bb9832"/>
<circle cx="78.5" cy="69.00" r="3.5" fill="#50b131"/>
<circle cx="78.5" cy="84.80" r="3.5" fill="#36ada4"/>
<circle cx="78.5" cy="100.60" r="3.5" fill="#3ba3ec"/>
<circle cx="78.5" cy="116.40" r="3.5" fill="#e866f4"/>
</g>
<text x="98" y="40.45" font-size="11">dconv</text>
<text x="98" y="56.17" font-size="11">densenet</text>
<text x="98" y="71.89" font-size="11">timm_mixer_s4_224</text>
<text x="98" y="87.61" font-size="11">vit4s</text>
<text x="98" y="103.33" font-size="11">preresnet18</text>
<text x="98" y="119.05" font-size="11">alexnet</text>
<path d="M67 130.4H89.65" stroke="#000" stroke-width="1" stroke-dasharray="3.93 1.702" fill="none"/>
<text x="98" y="134.77" font-size="11">y=x</text>
</svg></body></html>
